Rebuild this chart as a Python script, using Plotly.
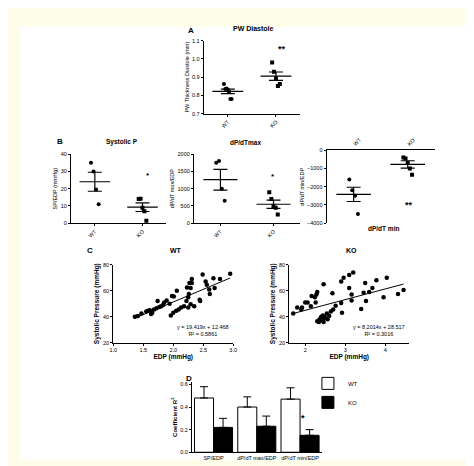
import numpy as np
import plotly.graph_objects as go

groups = ["WT", "KO"]

# A: PW thickness diastole (mm)
pw_wt = [0.862, 0.835, 0.838, 0.832, 0.82, 0.78, 0.78]
pw_ko = [0.98, 0.93, 0.893, 0.852, 0.862]
pw_mean = [0.822, 0.905]
pw_sem = [0.012, 0.023]

# B: systolic P / EDP
sp_wt = [35, 30, 19.5, 11]
sp_ko = [14, 14.2, 9, 7, 1.5]
sp_mean = [24, 9.3]
sp_sem = [5.5, 2.5]

dpmax_wt = [1750, 1800, 1000, 650]
dpmax_ko = [900, 700, 500, 450, 250]
dpmax_mean = [1260, 550]
dpmax_sem = [300, 120]

dpmin_wt = [-1600, -2200, -2500, -3500]
dpmin_ko = [-400, -450, -700, -1000, -1350]
dpmin_mean = [-2420, -780]
dpmin_sem = [390, 200]

# C: systolic pressure vs EDP
wt_edp = [1.36, 1.41, 1.47, 1.55, 1.58, 1.61, 1.63, 1.65, 1.68, 1.72, 1.74, 1.77, 1.8, 1.83,
          1.85, 1.89, 1.94, 1.98, 2.01, 2.06, 1.96, 2.0, 2.05, 2.09, 2.13, 2.18, 2.22, 2.25,
          2.26, 2.27, 2.29, 2.31, 2.31, 2.29, 2.35, 2.44, 2.45, 2.49, 2.54, 2.56, 2.6, 2.61,
          2.67, 2.69, 2.78, 2.95, 2.23, 2.25]
wt_sp = [40, 40.5, 42.5, 44, 44.5, 45, 42, 43, 45.5, 46.5, 52, 47.5, 48, 49,
         51, 52.5, 50, 56, 55.5, 60, 41, 43, 44.5, 45.5, 47, 48, 52, 47,
         57.5, 66, 62, 66, 69, 49.5, 48, 53, 52, 72.5, 67, 64.5, 61, 57.5,
         69.5, 62, 69, 73, 62.5, 55]
wt_fit = [19.419, 12.468]

ko_edp = [1.70, 1.80, 1.90, 1.92, 2.0, 2.06, 2.14, 2.16, 2.24, 2.26, 2.30, 2.28, 2.46, 2.30,
          2.36, 2.40, 2.44, 2.46, 2.5, 2.54, 2.6, 2.64, 2.70, 2.68, 2.76, 2.90, 2.96, 2.92,
          2.90, 3.10, 3.10, 3.2, 3.16, 3.16, 3.4, 3.46, 3.5, 3.52, 3.6, 3.68, 3.78, 3.96,
          4.04, 4.32, 4.46, 2.34, 2.38, 2.42, 2.48, 2.56]
ko_sp = [42.5, 47, 45.5, 47, 51, 51, 48, 56, 55, 51, 59, 57, 65, 36.5,
         38, 40, 41, 36, 39, 42.5, 40.5, 44, 45.5, 58, 48.5, 67, 70, 43,
         50.5, 62, 72, 74, 57, 52.5, 46, 58.5, 66, 52, 59, 62, 68, 55,
         70, 57.5, 60.5, 36, 37, 38.5, 40, 38]
ko_fit = [8.2014, 28.517]

# D: coefficient R2
d_cats = ["SP/EDP", "dP/dT max/EDP", "dP/dT min/EDP"]
d_wt = [0.48, 0.40, 0.47]
d_wt_err = [0.10, 0.09, 0.10]
d_ko = [0.22, 0.23, 0.15]
d_ko_err = [0.08, 0.09, 0.05]

W, H = 474, 466
FONT = "Liberation Sans"


def dom_x(a, b):
    return [a / W, b / W]


def dom_y(top, bottom):
    return [1 - bottom / H, 1 - top / H]


fig = go.Figure()
layout = dict(
    width=W, height=H, margin=dict(l=0, r=0, t=0, b=0),
    paper_bgcolor="#fdfde9", plot_bgcolor="white", showlegend=True,
    font=dict(family=FONT, size=6, color="black"),
)

axstyle = dict(showline=True, linecolor="black", linewidth=1, ticks="outside",
               ticklen=2, tickcolor="black", showgrid=False, zeroline=False,
               tickfont=dict(family=FONT, size=5.5, color="black"))

dot_panels = [
    # key, xdom, ydom, wt, ko, mean, sem, yrange, dtick, ytitle
    ("", dom_x(195, 293), dom_y(30, 104), pw_wt, pw_ko, pw_mean, pw_sem, [0.7, 1.1], 0.1,
     "PW Thickness Diastole (mm)"),
    ("2", dom_x(60, 157), dom_y(145, 215), sp_wt, sp_ko, sp_mean, sp_sem, [0, 40], 10,
     "SP/EDP (mmHg)"),
    ("3", dom_x(185, 293), dom_y(145, 215), dpmax_wt, dpmax_ko, dpmax_mean, dpmax_sem,
     [0, 2000], 500, "dP/dT max/EDP"),
    ("4", dom_x(320, 430), dom_y(141, 215), dpmin_wt, dpmin_ko, dpmin_mean, dpmin_sem,
     [-4000, 0], 1000, "dP/dT min/EDP"),
]

for key, xd, yd, wt, ko, mean, sem, yr, dt, ytitle in dot_panels:
    xa, ya = "x" + key, "y" + key
    for gi, (vals, sym) in enumerate([(wt, "circle"), (ko, "square")]):
        n = len(vals)
        offs = np.linspace(-0.08, 0.08, n) if n > 1 else [0]
        fig.add_trace(go.Scatter(x=[gi + o for o in offs], y=vals, mode="markers",
                                 marker=dict(symbol=sym, size=4, color="black"),
                                 xaxis=xa, yaxis=ya, showlegend=False))
        fig.add_trace(go.Scatter(x=[gi - 0.32, gi + 0.32], y=[mean[gi]] * 2, mode="lines",
                                 line=dict(color="black", width=1.2),
                                 xaxis=xa, yaxis=ya, showlegend=False))
        fig.add_trace(go.Scatter(x=[gi], y=[mean[gi]], mode="markers",
                                 marker=dict(size=1, color="rgba(0,0,0,0)"),
                                 error_y=dict(type="data", array=[sem[gi]], color="black",
                                              thickness=1.2, width=7),
                                 xaxis=xa, yaxis=ya, showlegend=False))
    xname, yname = "xaxis" + key, "yaxis" + key
    layout[xname] = dict(axstyle, domain=xd, anchor=ya, range=[-0.5, 1.5],
                         tickvals=[0, 1], ticktext=groups, tickangle=-45)
    layout[yname] = dict(axstyle, domain=yd, anchor=xa, range=yr, dtick=dt,
                         title=dict(text=ytitle, font=dict(size=5.5), standoff=2))
    if key == "":
        layout[yname]["tickformat"] = ".1f"
    if key == "4":
        layout[xname]["side"] = "top"
        layout[xname]["ticks"] = ""

# C scatter panels
for key, xd, edp, sp, fit, xr, dtk, name in [
    ("5", dom_x(103, 225), wt_edp, wt_sp, wt_fit, [1.0, 3.0], 0.5, "WT"),
    ("6", dom_x(282, 404), ko_edp, ko_sp, ko_fit, [1.6, 4.6], 1, "KO"),
]:
    xa, ya = "x" + key, "y" + key
    fig.add_trace(go.Scatter(x=edp, y=sp, mode="markers",
                             marker=dict(size=4.5, color="black"),
                             xaxis=xa, yaxis=ya, showlegend=False))
    lx = [min(edp), max(edp)]
    fig.add_trace(go.Scatter(x=lx, y=[fit[0] * v + fit[1] for v in lx], mode="lines",
                             line=dict(color="black", width=1),
                             xaxis=xa, yaxis=ya, showlegend=False))
    layout["xaxis" + key] = dict(axstyle, domain=xd, anchor=ya, range=xr, dtick=dtk,
                                 tickformat=".1f" if key == "5" else "d",
                                 title=dict(text="<b>EDP (mmHg)</b>", font=dict(size=6.5),
                                            standoff=2))
    layout["yaxis" + key] = dict(axstyle, domain=dom_y(257, 336), anchor=xa, range=[20, 80],
                                 dtick=20, title=dict(text="<b>Systolic Pressure (mmHg)</b>",
                                                      font=dict(size=6.5), standoff=2))

# D bar chart
fig.add_trace(go.Bar(x=d_cats, y=d_wt, name="WT", marker=dict(color="white",
                     line=dict(color="black", width=1)),
                     error_y=dict(type="data", array=d_wt_err, arrayminus=[0] * 3,
                                  symmetric=False, color="black", thickness=1, width=4),
                     xaxis="x7", yaxis="y7"))
fig.add_trace(go.Bar(x=d_cats, y=d_ko, name="KO", marker=dict(color="black",
                     line=dict(color="black", width=1)),
                     error_y=dict(type="data", array=d_ko_err, arrayminus=[0] * 3,
                                  symmetric=False, color="black", thickness=1, width=4),
                     xaxis="x7", yaxis="y7"))
layout["xaxis7"] = dict(axstyle, domain=dom_x(183, 315), anchor="y7", ticks="",
                        tickfont=dict(family=FONT, size=5.5, color="black"))
layout["yaxis7"] = dict(axstyle, domain=dom_y(376, 447), anchor="x7", range=[0, 0.62],
                        tickvals=[0, 0.2, 0.4, 0.6], tickformat=".1f",
                        title=dict(text="<b>Coefficient R<sup>2</sup></b>",
                                   font=dict(size=6), standoff=2))
layout["barmode"] = "group"
layout["bargap"] = 0.12
layout["bargroupgap"] = 0.0
layout["legend"] = dict(x=0.635, y=0.222, xanchor="left", yanchor="top",
                        font=dict(size=6), bgcolor="rgba(0,0,0,0)", tracegroupgap=0,
                        itemwidth=30)

layout["shapes"] = [dict(type="rect", xref="paper", yref="paper", x0=0.017, x1=0.983,
                         y0=0.025, y1=0.965, fillcolor="white", line_width=0, layer="below")]


def ann(x, y, text, size=7, xanchor="center", bold=True):
    return dict(x=x / W, y=1 - y / H, xref="paper", yref="paper", showarrow=False,
                text=("<b>%s</b>" % text) if bold else text, xanchor=xanchor,
                yanchor="middle", font=dict(family=FONT, size=size, color="black"))


layout["annotations"] = [
    ann(177, 20, "A", 8, "left"),
    ann(246, 18, "PW Diastole", 7),
    ann(275, 38, "**", 9),
    ann(44, 132, "B", 8, "left"),
    ann(112, 133, "Systolic P", 6.5),
    ann(237, 133, "dP/dTmax", 6.5),
    ann(138, 167, "*", 8),
    ann(265, 168, "*", 8),
    ann(404, 197, "**", 9),
    ann(378, 220, "dP/dT min", 6.5),
    ann(74, 243, "C", 8, "left"),
    ann(167, 243, "WT", 7),
    ann(345, 243, "KO", 7),
    ann(223, 324, "y = 19.419x + 12.468<br>R² = 0.5861", 5.5, "right", False),
    ann(402, 324, "y = 8.2014x + 28.517<br>R² = 0.3016", 5.5, "right", False),
    ann(175, 372, "D", 8, "left"),
    ann(296, 412, "*", 9),
]

fig.update_layout(**layout)
fig.write_html("out.html")
